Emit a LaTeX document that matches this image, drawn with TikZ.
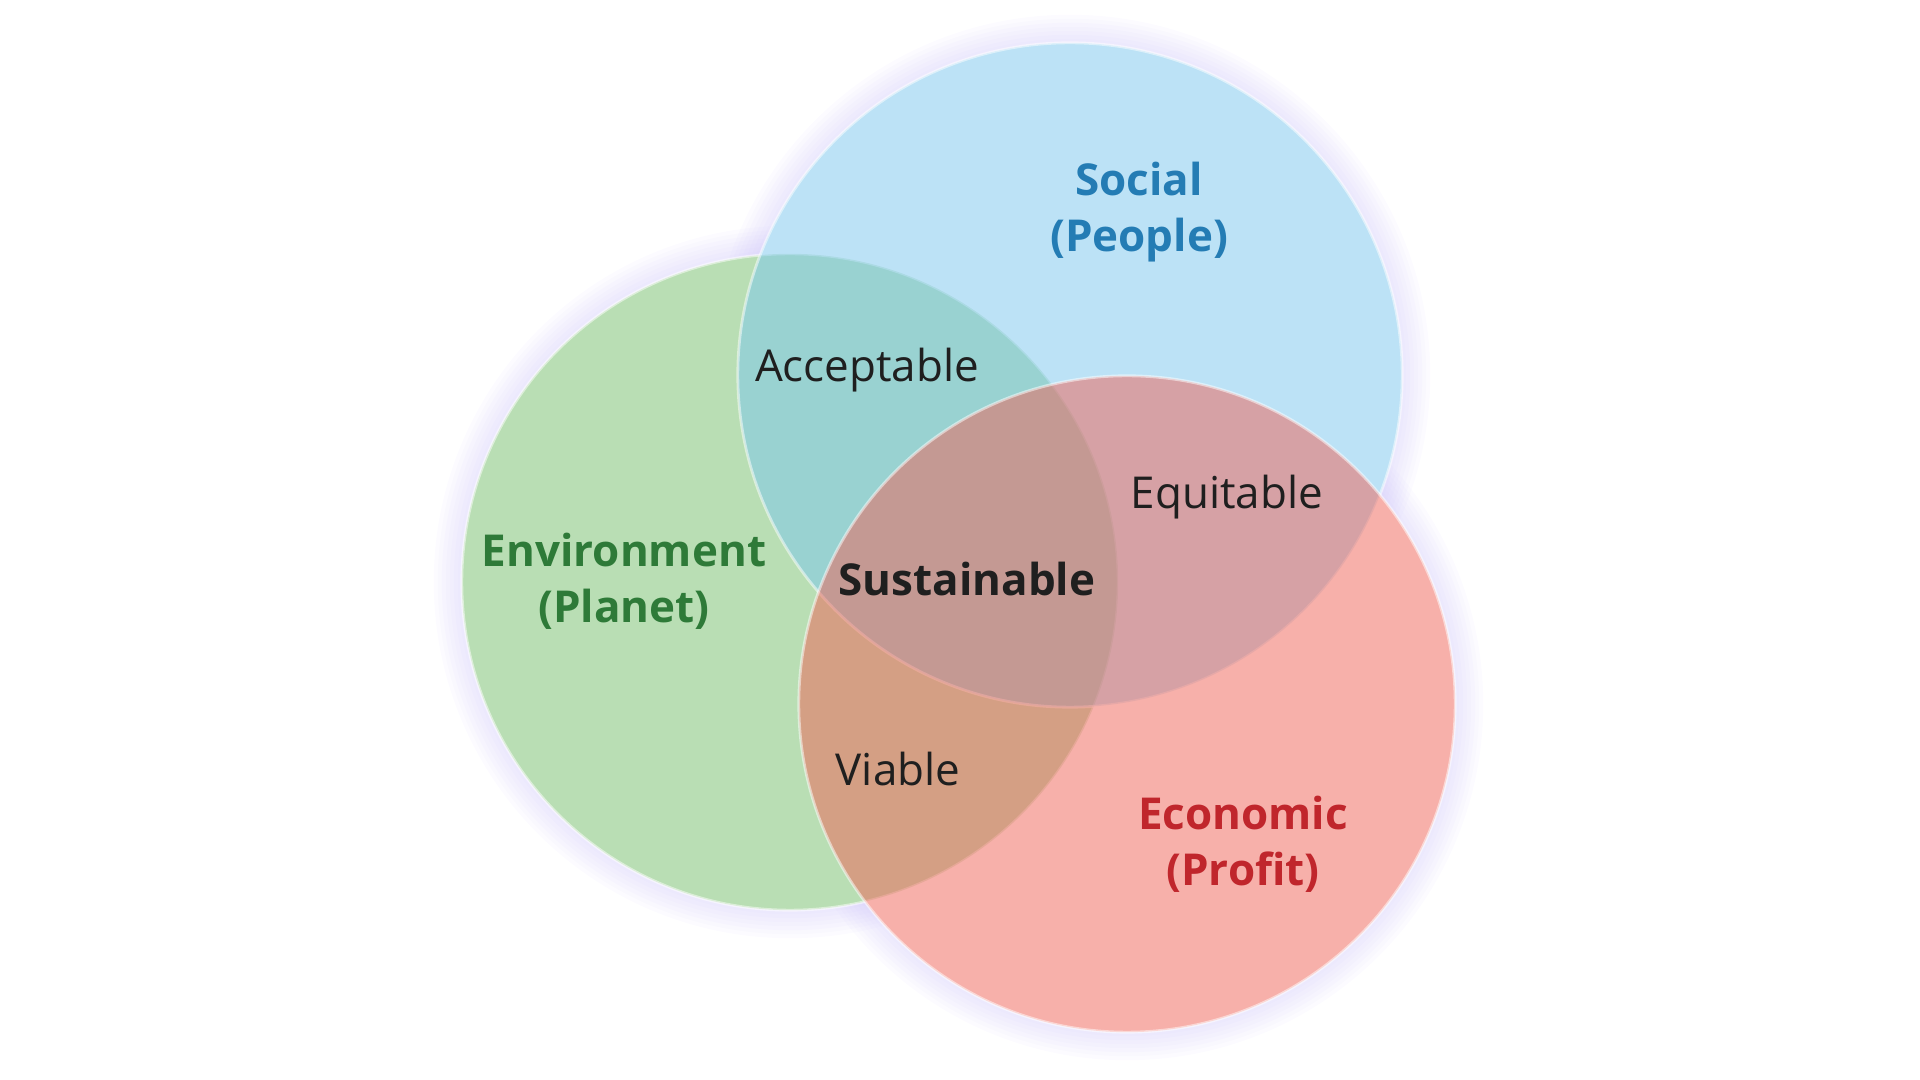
\documentclass[tikz,border=0pt]{standalone}
\usepackage{fontspec}
\setmainfont{Open Sans}
\usepackage{tikz}
\usetikzlibrary{positioning}
\definecolor{envc}{RGB}{117,191,107}
\definecolor{socc}{RGB}{123,199,239}
\definecolor{ecoc}{RGB}{240,98,86}
\definecolor{haloc}{RGB}{200,190,248}
\definecolor{envt}{RGB}{46,122,56}
\definecolor{soct}{RGB}{36,124,180}
\definecolor{ecot}{RGB}{192,38,44}
\tikzstyle{base} = [circle, inner sep=0pt, minimum size=6.56cm]
\tikzstyle{halo} = [base, fill=haloc, fill opacity=0.06]
\tikzstyle{ring} = [base, fill opacity=0.5, draw=white, draw opacity=0.5, line width=0.8pt]
\tikzstyle{title} = [align=center, font=\fontsize{12.5}{16}\selectfont\bfseries]
\tikzstyle{zone} = [align=center, text=black!88, font=\fontsize{12.5}{16}\selectfont]

\begin{document}
\begin{tikzpicture}[x=0.01cm,y=-0.01cm]

\useasboundingbox (0,0) rectangle (1920,1080);

\coordinate (envpt) at (790,582);
\coordinate (socpt) at (1070,375);
\coordinate (ecopt) at (1127,704);

% soft glow
\foreach \p/\s in {envpt/6.56,socpt/6.64,ecopt/6.56}
  \foreach \d in {1,...,7}
    \node [halo, minimum size={(\s+\d*0.08)*1cm}] at (\p) {};
\foreach \p/\s in {envpt/6.56,socpt/6.64,ecopt/6.56}
  \node [base, minimum size=\s cm, fill=white] at (\p) {};

\node (env) [ring, fill=envc] at (envpt) {};
\node (soc) [ring, fill=socc, minimum size=6.64cm] at (socpt) {};
\node (eco) [ring, fill=ecoc] at (ecopt) {};

\node (st) [title, text=soct] at (1139,212) {Social\\(People)};
\node (et) [title, text=envt] at (624,581) {Environment\\(Planet)};
\node (ct) [title, text=ecot] at (1243,844) {Economic\\(Profit)};

\node (acc) [zone] at (867,370) {Acceptable};
\node (equ) [zone] at (1227,497) {Equitable};
\node (via) [zone] at (898,769) {Viable};
\node (sus) [zone, font=\fontsize{12.5}{16}\selectfont\bfseries] at (967,579) {Sustainable};

\end{tikzpicture}
\end{document}
